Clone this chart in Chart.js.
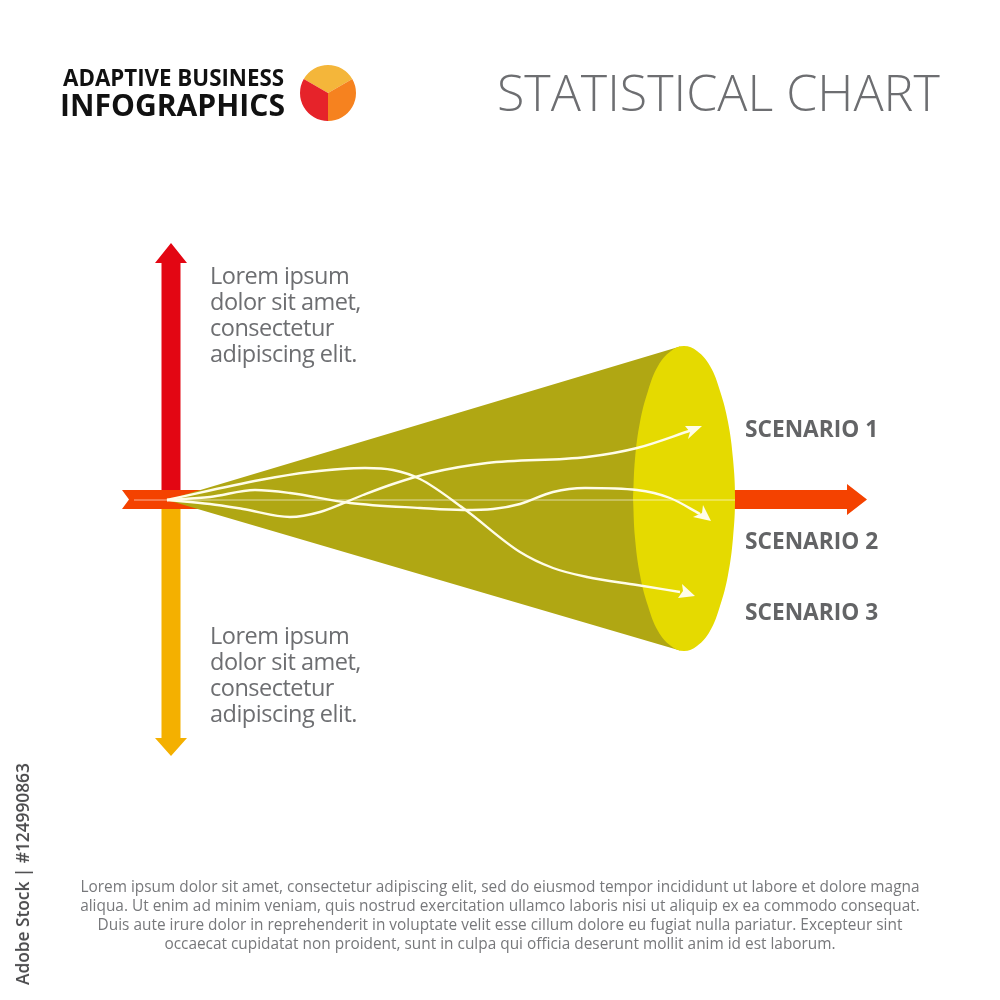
<!DOCTYPE html>
<html>
<head>
<meta charset="utf-8">
<title>Statistical Chart</title>
<script src="https://cdn.jsdelivr.net/npm/chart.js@4"></script>
<style>
html,body{margin:0;padding:0;background:#fff;width:1000px;height:1000px;overflow:hidden}
#stage{position:relative;width:1000px;height:1000px;font-family:"Open Sans",sans-serif}
#main{position:absolute;left:0;top:0}
#logo{position:absolute;left:298px;top:63px}
.t{position:absolute;white-space:nowrap}
#brand1{left:63px;top:63px;font-size:22.3px;line-height:30px;font-weight:700;color:#111}
#brand2{left:60px;top:85px;font-size:30.1px;line-height:40px;font-weight:700;color:#111}
#title{left:497px;top:58px;font-size:50.2px;line-height:68px;font-weight:300;color:#6d6e71}
.note{left:210px;font-size:23.5px;line-height:26px;letter-spacing:-.5px;color:#6d6e71;white-space:pre-line}
#note1{top:262px}
#note2{top:622px}
.sc{left:745px;font-size:22.7px;line-height:30px;font-weight:700;color:#636466}
#foot{left:0;width:1000px;top:877px;text-align:center;font-size:15.4px;line-height:19px;color:#77787b;white-space:pre-line}
#stock{left:23px;top:873.5px;transform:translate(-50%,-50%) rotate(-90deg);font-size:17.3px;line-height:22px;font-weight:600;color:#4a4a4c}
</style>
</head>
<body>
<div id="stage">
<canvas id="main" width="1000" height="1000"></canvas>
<canvas id="logo" width="60" height="60"></canvas>
</div>
<script>
// ---- text ----
const brandLines = ["ADAPTIVE BUSINESS", "INFOGRAPHICS"];
const chartTitle = "STATISTICAL CHART";
const noteText = "Lorem ipsum\ndolor sit amet,\nconsectetur\nadipiscing elit.";
const scenarioLabels = ["SCENARIO 1", "SCENARIO 2", "SCENARIO 3"];
const scenarioTops = [414, 526, 597];
const footerText = "Lorem ipsum dolor sit amet, consectetur adipiscing elit, sed do eiusmod tempor incididunt ut labore et dolore magna\naliqua. Ut enim ad minim veniam, quis nostrud exercitation ullamco laboris nisi ut aliquip ex ea commodo consequat.\nDuis aute irure dolor in reprehenderit in voluptate velit esse cillum dolore eu fugiat nulla pariatur. Excepteur sint\noccaecat cupidatat non proident, sunt in culpa qui officia deserunt mollit anim id est laborum.";
const stockText = "Adobe Stock | #124990863";

// ---- logo ----
const logoValues = [1, 1, 1];
const logoColors = ["#f4b63a", "#f6821f", "#e6232a"];

// ---- shapes, in chart units ----
const coneShape = [[167,500],[680,346.5],[680,650.5]];
const capShape = [[633,498],[635,459],[640,422],[648,391],[658,366],[671,351],[684,346],[697,351],[710,366],[720,391],[728,422],[733,459],[735,498],[733,538],[728,575],[720,606],[710,631],[697,646],[684,651],[671,646],[658,631],[648,606],[640,575],[635,538],[633,498]];
const redArrow = [[161.5,495],[161.5,263],[155,263],[171,243],[187,263],[180.5,263],[180.5,495]];
const amberArrow = [[161.5,503],[161.5,738],[155,738],[171,756],[187,738],[180.5,738],[180.5,503]];
const orangeArrow = [[122,490],[847,490],[847,484],[867,499.5],[847,515],[847,509],[122,509],[129,499.5]];
const axisLine = [[134,500],[735,500]];

// ---- scenario paths ----
const scenario1 = [[167,500],[210,504],[243,509],[290,517],[320,512],[363,495],[393,484],[430,473],[487,463],[587,457],[637,448],[692,430]];
const scenario2 = [[167,500],[210,497],[255,490],[290,493],[350,503],[420,508],[463,510],[493,509],[520,504],[553,492],[585,488],[637,490],[670,498],[700,514]];
const scenario3 = [[167,500],[260,480],[310,472],[365,468],[393,470],[420,479],[463,508],[520,552],[553,568],[587,577],[637,585],[680,592]];
const head1 = [[702,426],[685,426],[690,432],[688,439]];
const head2 = [[711,521],[703,505],[702,513],[693,517]];
const head3 = [[695,596],[682,584],[683,591],[678,598]];

// ---- colours ----
const coneColor = "#b0a713";
const capColor = "#e5da00";
const redColor = "#e30613";
const amberColor = "#f4b000";
const orangeColor = "#f44200";
const pathColor = "#fffde8";

const toXY = pts => pts.map(p => ({x:p[0], y:p[1]}));
const shape = (pts, color, tension) => ({data:toXY(pts), showLine:true, fill:'shape', backgroundColor:color, borderColor:color, borderWidth:0, pointRadius:0, tension:tension||0});
const path = (pts, color, width) => ({data:toXY(pts), showLine:true, fill:false, borderColor:color, borderWidth:width, pointRadius:0, cubicInterpolationMode:'monotone'});

// listed from bottom to top, reversed so the first listed paints first
const layers = [
  shape(redArrow, redColor),
  shape(amberArrow, amberColor),
  shape(orangeArrow, orangeColor),
  shape(coneShape, coneColor),
  shape(capShape, capColor, 0.4),
  path(axisLine, "rgba(255,255,255,0.6)", 1),
  path(scenario1, pathColor, 2.4),
  path(scenario2, pathColor, 2.4),
  path(scenario3, pathColor, 2.4),
  shape(head1, pathColor),
  shape(head2, pathColor),
  shape(head3, pathColor)
].reverse();

new Chart(document.getElementById('main'), {
  type:'scatter',
  data:{datasets:layers},
  options:{
    responsive:false, animation:false, devicePixelRatio:1,
    layout:{padding:0},
    plugins:{legend:{display:false}, tooltip:{enabled:false}, title:{display:false}},
    scales:{
      x:{type:'linear', min:0, max:1000, display:false},
      y:{type:'linear', min:0, max:1000, reverse:true, display:false}
    }
  }
});

new Chart(document.getElementById('logo'), {
  type:'pie',
  data:{labels:["a","b","c"], datasets:[{data:logoValues, backgroundColor:logoColors, borderWidth:0}]},
  options:{responsive:false, animation:false, devicePixelRatio:1, rotation:-60, layout:{padding:2},
    plugins:{legend:{display:false}, tooltip:{enabled:false}}}
});

// ---- real text ----
const stage = document.getElementById('stage');
function addText(id, cls, text, top){
  const d = document.createElement('div');
  if(id) d.id = id;
  d.className = 't ' + (cls||'');
  d.textContent = text;
  if(top!==undefined) d.style.top = top + 'px';
  stage.appendChild(d);
}
addText('brand1','',brandLines[0]);
addText('brand2','',brandLines[1]);
addText('title','',chartTitle);
addText('note1','note',noteText);
addText('note2','note',noteText);
scenarioLabels.forEach((s,i)=>addText('', 'sc', s, scenarioTops[i]));
addText('foot','',footerText);
addText('stock','',stockText);
</script>
</body>
</html>
